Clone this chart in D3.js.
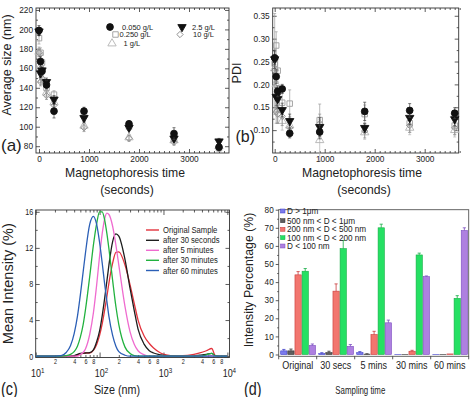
<!DOCTYPE html>
<html>
<head>
<meta charset="utf-8">
<script src="https://cdn.jsdelivr.net/npm/d3@7"></script>
<style>
  body { margin: 0; background: #fff; }
  svg { display: block; font-family: "Liberation Sans", Arial, sans-serif; }
</style>
</head>
<body>
<svg id="fig" width="474" height="397"></svg>
<script>
// ---------------------------------------------
// DATA
// ---------------------------------------------
const times = [0, 30, 60, 150, 300, 900, 1800, 2700, 3600];
const concLabels = ["0.050 g/L", "0.250 g/L", "1 g/L", "2.5 g/L", "10 g/L"];

// (a) average size (nm)
const sizeC005 = [199, 167, 157, 143, 116, 116, 103, 93, 79];
const sizeC025 = [191, 176, 166, 140, 133, 112, 100, 88, 78];
const sizeC1   = [177, 162, 148, 135, 125, 101, 89, 86, 80];
const sizeC25  = [198, 155, 158, 146, 128, 109, 99, 88, 85];
const sizeC10  = [176, 146, 150, 132, 122, 99, 88, 84, 78];
const sizeErr005 = [5, 5, 4, 4, 7, 4, 3, 6, 3];
const sizeErr025 = [6, 5, 4, 5, 4, 5, 3, 4, 3];
const sizeErr1   = [5, 5, 4, 4, 4, 4, 3, 4, 3];
const sizeErr25  = [4, 4, 3, 4, 4, 4, 3, 3, 3];
const sizeErr10  = [4, 4, 4, 4, 4, 4, 3, 3, 3];

// (b) PDI
const pdiC005 = [0.258, 0.217, 0.185, 0.190, 0.093, 0.096, 0.141, 0.143, 0.137];
const pdiC025 = [0.245, 0.285, 0.230, 0.160, 0.158, 0.122, 0.135, 0.115, 0.110];
const pdiC1   = [0.235, 0.200, 0.145, 0.120, 0.110, 0.078, 0.095, 0.105, 0.100];
const pdiC25  = [0.255, 0.173, 0.168, 0.144, 0.120, 0.107, 0.105, 0.127, 0.124];
const pdiC10  = [0.230, 0.140, 0.135, 0.130, 0.105, 0.115, 0.098, 0.110, 0.105];
const pdiErr005 = [0.015, 0.015, 0.012, 0.010, 0.010, 0.015, 0.020, 0.015, 0.012];
const pdiErr025 = [0.110, 0.030, 0.025, 0.030, 0.030, 0.035, 0.020, 0.020, 0.020];
const pdiErr1   = [0.030, 0.030, 0.030, 0.020, 0.020, 0.045, 0.015, 0.015, 0.015];
const pdiErr25  = [0.020, 0.020, 0.020, 0.015, 0.015, 0.020, 0.010, 0.015, 0.015];
const pdiErr10  = [0.025, 0.025, 0.020, 0.020, 0.020, 0.020, 0.015, 0.015, 0.015];

// (c) intensity distributions
const distSizes = [10, 20, 25, 30, 35, 40, 45, 50, 55, 60, 70, 80, 90, 100, 110, 120, 130, 140, 160, 180,
                   200, 250, 300, 350, 400, 500, 600, 700, 900, 1100, 1500, 2000, 3000, 3700, 4700, 5700, 6400, 7000, 10000];
const distOriginal = [0, 0, 0, 0, 0, 0, 0.1, 0.25, 0.3, 0.35, 0.35, 0.64, 1.3, 2.3, 3.6, 5.1, 6.6, 8.1, 10.3, 11.5,
                      11.55, 10.1, 7.9, 5.8, 4.0, 2.2, 1.4, 0.9, 0.35, 0.15, 0.05, 0.05, 0.2, 0.35, 0.6, 0.85, 0.1, 0, 0];
const dist30s = [0, 0, 0, 0, 0, 0.05, 0.2, 0.3, 0.33, 0.35, 0.4, 0.7, 1.6, 2.8, 4.5, 6.4, 8.3, 10.1, 12.7, 13.55,
                 13.3, 10.7, 7.5, 5.0, 3.0, 1.3, 0.6, 0.35, 0.15, 0.05, 0.02, 0, 0.02, 0.1, 0.2, 0.3, 0.05, 0, 0];
const dist5m = [0, 0, 0, 0, 0, 0, 0, 0.18, 0.4, 0.8, 2.4, 4.8, 7.9, 11.1, 13.6, 15.2, 15.85, 15.7, 14.4, 12.3,
                10.1, 5.5, 2.7, 1.3, 0.6, 0.15, 0, 0, 0, 0, 0, 0, 0, 0, 0, 0.05, 0, 0, 0];
const dist30m = [0, 0, 0, 0.05, 0.2, 0.5, 1.1, 2.1, 3.4, 5.1, 8.8, 12.3, 14.7, 16.0, 16.0, 15.1, 13.6, 11.9, 8.4, 5.5,
                 3.5, 1.0, 0.3, 0.05, 0, 0, 0, 0, 0, 0, 0, 0, 0, 0, 0.15, 0.3, 0.05, 0, 0];
const dist60m = [0, 0, 0.05, 0.4, 1.15, 2.5, 4.4, 6.8, 9.2, 11.4, 14.6, 15.5, 14.6, 12.6, 10.3, 8.0, 6.1, 4.4, 2.3, 1.1,
                 0.5, 0.1, 0, 0, 0, 0, 0, 0, 0, 0, 0, 0, 0, 0, 0, 0, 0, 0, 0];
const distLabels = ["Original Sample", "after 30 seconds", "after 5 minutes", "after 30 minutes", "after 60 minutes"];

// (d) intensity percentage by size class
const sampCats = ["Original", "30 secs", "5 mins", "30 mins", "60 mins"];
const classLabels = ["D > 1\u03bcm", "500 nm < D < 1\u03bcm", "200 nm < D < 500 nm", "100 nm < D < 200 nm", "D < 100 nm"];
const pctOver1um   = [2, 0.5, 1, 0.05, 0.05];
const pct500to1000 = [2, 1, 0.2, 0.05, 0.05];
const pct200to500  = [44, 35, 11, 1.8, 0.3];
const pct100to200  = [46, 58.5, 70, 55, 31];
const pctUnder100  = [5, 4.5, 17.5, 43, 68.5];
const errOver1um   = [0.8, 0.5, 0.6, 0, 0];
const err500to1000 = [1, 0.8, 0.2, 0, 0];
const err200to500  = [1.8, 4, 1.8, 0.5, 0];
const err100to200  = [1.5, 4.5, 2, 1, 1.5];
const errUnder100  = [0.8, 1, 1.5, 0.4, 1.5];

// ---------------------------------------------
// HELPERS
// ---------------------------------------------
const svg = d3.select("#fig");
const INK = "#222";

function tickAxis(g, gen, tx, ty) {
  const a = g.append("g").attr("transform", `translate(${tx},${ty})`).call(gen);
  a.attr("font-family", null).attr("font-size", null);
  a.select(".domain").remove();
  a.selectAll("line").attr("stroke", "#333").attr("stroke-width", 0.8);
  a.selectAll("text").attr("fill", INK);
  return a;
}

function frame(g, x, y, color) {
  const [l, r] = x.range(), [b, t] = y.range();
  g.append("rect")
    .attr("x", l).attr("y", t).attr("width", r - l).attr("height", b - t)
    .attr("fill", "none").attr("stroke", color || "#333").attr("stroke-width", 0.9);
}

function label(g, txt, x, y, size, opts = {}) {
  const k = opts.k || 1;
  const rot = opts.rotate ? " rotate(-90)" : "";
  return g.append("text")
    .attr("transform", `translate(${x},${y})${rot} scale(${k},1)`)
    .attr("text-anchor", opts.anchor || "middle")
    .attr("font-size", size + "px")
    .attr("fill", INK)
    .text(txt);
}

// box axes with inward ticks on four sides (a, b)
function scatterAxes(g, x, y, yMajor, yMinor, yFmt) {
  const [l, r] = x.range(), [b, t] = y.range();
  const xMajor = [0, 1000, 2000, 3000];
  const xMinor = d3.range(0, 3800, 100).filter(v => v % 1000);
  frame(g, x, y);
  tickAxis(g, d3.axisBottom(x).tickValues(xMajor).tickSize(-4).tickPadding(3).tickFormat(d3.format("d")), 0, b)
    .selectAll("text").attr("font-size", "8.3px");
  tickAxis(g, d3.axisBottom(x).tickValues(xMinor).tickSize(-2).tickFormat(""), 0, b);
  tickAxis(g, d3.axisTop(x).tickValues(xMajor).tickSize(-4).tickFormat(""), 0, t);
  tickAxis(g, d3.axisTop(x).tickValues(xMinor).tickSize(-2).tickFormat(""), 0, t);
  tickAxis(g, d3.axisLeft(y).tickValues(yMajor).tickSize(-4).tickPadding(3).tickFormat(yFmt), l, 0)
    .selectAll("text").attr("font-size", "8.3px");
  tickAxis(g, d3.axisLeft(y).tickValues(yMinor).tickSize(-2).tickFormat(""), l, 0);
  tickAxis(g, d3.axisRight(y).tickValues(yMajor).tickSize(-4).tickFormat(""), r, 0);
  tickAxis(g, d3.axisRight(y).tickValues(yMinor).tickSize(-2).tickFormat(""), r, 0);
}

const symCircle = d3.symbol().type(d3.symbolCircle).size(36)();
const symSquare = d3.symbol().type(d3.symbolSquare).size(30)();
const symTri    = d3.symbol().type(d3.symbolTriangle).size(30)();
const symDiam   = d3.symbol().type(d3.symbolSquare).size(20)();

function seriesStyles(v005, v025, v1, v25, v10, e005, e025, e1, e25, e10) {
  // drawing order: open markers first, filled on top
  return [
    { name: concLabels[2], vals: v1,   err: e1,   path: symTri,    rot: 0,   fill: "none", stroke: "#b3b3b3" },
    { name: concLabels[4], vals: v10,  err: e10,  path: symDiam,   rot: 45,  fill: "none", stroke: "#8c8c8c" },
    { name: concLabels[1], vals: v025, err: e025, path: symSquare, rot: 0,   fill: "none", stroke: "#9c9c9c" },
    { name: concLabels[3], vals: v25,  err: e25,  path: symTri,    rot: 180, fill: "#111", stroke: "#111" },
    { name: concLabels[0], vals: v005, err: e005, path: symCircle, rot: 0,   fill: "#111", stroke: "#111" }
  ];
}

function drawScatter(g, x, y, series) {
  series.forEach(s => {
    const pts = times.map((t, i) => ({ t, v: s.vals[i], e: s.err[i] }));
    const sg = g.append("g");
    const eb = sg.selectAll(".eb").data(pts).enter().append("g")
      .attr("stroke", s.stroke === "#111" ? "#444" : s.stroke).attr("stroke-width", 0.7);
    eb.append("line")
      .attr("x1", d => x(d.t)).attr("x2", d => x(d.t))
      .attr("y1", d => y(d.v - d.e)).attr("y2", d => y(d.v + d.e));
    eb.append("line")
      .attr("x1", d => x(d.t) - 1.5).attr("x2", d => x(d.t) + 1.5)
      .attr("y1", d => y(d.v + d.e)).attr("y2", d => y(d.v + d.e));
    eb.append("line")
      .attr("x1", d => x(d.t) - 1.5).attr("x2", d => x(d.t) + 1.5)
      .attr("y1", d => y(d.v - d.e)).attr("y2", d => y(d.v - d.e));
    sg.selectAll(".pt").data(pts).enter().append("path")
      .attr("d", s.path)
      .attr("transform", d => `translate(${x(d.t)},${y(d.v)}) rotate(${s.rot})`)
      .attr("fill", s.fill).attr("stroke", s.stroke).attr("stroke-width", 0.9);
  });
}

// ---------------------------------------------
// PANEL (a)
// ---------------------------------------------
const gA = svg.append("g");
const xA = d3.scaleLinear().domain([-60, 3800]).range([36, 229]);
const yA = d3.scaleLinear().domain([73, 222]).range([153, 8]);
scatterAxes(gA, xA, yA, d3.range(80, 221, 20), d3.range(90, 221, 20), d3.format("d"));
drawScatter(gA, xA, yA, seriesStyles(sizeC005, sizeC025, sizeC1, sizeC25, sizeC10,
  sizeErr005, sizeErr025, sizeErr1, sizeErr25, sizeErr10));

// legend (a)
const legA = [
  { i: 0, sx: 110, tx: 122, y: 27, path: symCircle, rot: 0, fill: "#111", stroke: "#111" },
  { i: 1, sx: 115.5, tx: 119.5, y: 34.5, path: symSquare, rot: 0, fill: "none", stroke: "#9c9c9c" },
  { i: 2, sx: 112, tx: 123.5, y: 43.5, path: symTri, rot: 0, fill: "none", stroke: "#b3b3b3" },
  { i: 3, sx: 182, tx: 192, y: 27, path: symTri, rot: 180, fill: "#111", stroke: "#111" },
  { i: 4, sx: 180, tx: 193, y: 34.5, path: symDiam, rot: 45, fill: "none", stroke: "#8c8c8c" }
];
legA.forEach(d => {
  gA.append("path").attr("d", d.path)
    .attr("transform", `translate(${d.sx},${d.y}) rotate(${d.rot})`)
    .attr("fill", d.fill).attr("stroke", d.stroke).attr("stroke-width", 0.9);
  label(gA, concLabels[d.i], d.tx, d.y + 2.6, 7.5, { anchor: "start" });
});

label(gA, "Average size (nm)", 11, 65, 12.5, { rotate: true });
label(gA, "Magnetophoresis time", 125, 177, 12.2);
label(gA, "(seconds)", 127, 194, 12.2);
label(gA, "(a)", 1, 151, 17, { anchor: "start" });

// ---------------------------------------------
// PANEL (b)
// ---------------------------------------------
const gB = svg.append("g");
const xB = d3.scaleLinear().domain([-40, 3680]).range([272.7, 458.7]);
const yB = d3.scaleLinear().domain([0.05, 0.367]).range([153, 8]);
scatterAxes(gB, xB, yB, d3.range(0.10, 0.36, 0.05), d3.range(0.075, 0.36, 0.05), d3.format(".2f"));
drawScatter(gB, xB, yB, seriesStyles(pdiC005, pdiC025, pdiC1, pdiC25, pdiC10,
  pdiErr005, pdiErr025, pdiErr1, pdiErr25, pdiErr10));

label(gB, "PDI", 241, 73, 12.5, { rotate: true });
label(gB, "Magnetophoresis time", 362, 177, 12.2);
label(gB, "(seconds)", 364, 194, 12.2);
label(gB, "(b)", 235.5, 142, 16, { anchor: "start" });

// ---------------------------------------------
// PANEL (c)
// ---------------------------------------------
const gC = svg.append("g");
const xC = d3.scaleLog().domain([10, 10800]).range([35.7, 229.5]);
const yC = d3.scaleLinear().domain([-0.15, 16.2]).range([357.5, 210]);
const cMajor = [10, 100, 1000, 10000];
const cMinor = [10, 100, 1000].flatMap(p => d3.range(2, 10).map(m => m * p));
const cK = 0.78;

frame(gC, xC, yC);
const minorAx = tickAxis(gC, d3.axisBottom(xC).tickValues(cMinor).tickSize(-2.5).tickPadding(1.5)
  .tickFormat(d => {
    const m = Math.round(d / Math.pow(10, Math.floor(Math.log10(d) + 1e-9)));
    return [2, 4, 6, 8].includes(m) ? m : "";
  }), 0, 357.5);
minorAx.selectAll("text").attr("font-size", "7px").attr("transform", `scale(${cK},1)`);
const majorAx = tickAxis(gC, d3.axisBottom(xC).tickValues(cMajor).tickSize(-5).tickPadding(11).tickFormat(""), 0, 357.5);
majorAx.selectAll(".tick text")
  .attr("font-size", "11.5px").attr("transform", `translate(1.5,0) scale(${cK},1)`)
  .each(function (d) {
    const t = d3.select(this);
    t.append("tspan").text("10");
    t.append("tspan").attr("dy", "-0.45em").attr("font-size", "8px").text(Math.round(Math.log10(d)));
  });
tickAxis(gC, d3.axisTop(xC).tickValues(cMinor).tickSize(-2.5).tickFormat(""), 0, 210);
tickAxis(gC, d3.axisTop(xC).tickValues(cMajor).tickSize(-5).tickFormat(""), 0, 210);
tickAxis(gC, d3.axisLeft(yC).tickValues([0, 4, 8, 12, 16]).tickSize(-4).tickPadding(3).tickFormat(d3.format("d")), 35.7, 0)
  .selectAll("text").attr("font-size", "9px").attr("transform", "scale(0.8,1)");
tickAxis(gC, d3.axisLeft(yC).tickValues([2, 6, 10, 14]).tickSize(-2).tickFormat(""), 35.7, 0);
tickAxis(gC, d3.axisRight(yC).tickValues([0, 4, 8, 12, 16]).tickSize(-4).tickFormat(""), 229.5, 0);
tickAxis(gC, d3.axisRight(yC).tickValues([2, 6, 10, 14]).tickSize(-2).tickFormat(""), 229.5, 0);

const distSeries = [
  { vals: distOriginal, color: "#e3333d" },
  { vals: dist30s, color: "#1e1e1e" },
  { vals: dist5m, color: "#ef6bcf" },
  { vals: dist30m, color: "#22b23f" },
  { vals: dist60m, color: "#2b5fb6" }
];
const lineC = d3.line()
  .x(d => xC(d.s)).y(d => yC(d.v))
  .curve(d3.curveMonotoneX);
gC.append("defs").append("clipPath").attr("id", "clipC")
  .append("rect").attr("x", 35.7).attr("y", 210).attr("width", 229.5 - 35.7).attr("height", 147.5);
const curves = gC.append("g").attr("clip-path", "url(#clipC)");
distSeries.forEach(s => {
  curves.append("path")
    .datum(distSizes.map((sz, i) => ({ s: sz, v: s.vals[i] })))
    .attr("d", lineC)
    .attr("fill", "none").attr("stroke", s.color).attr("stroke-width", 1.3);
});

// legend (c)
const legCY = [230, 240.3, 250.3, 260.3, 270.5];
distSeries.forEach((s, i) => {
  gC.append("line").attr("x1", 146).attr("x2", 159).attr("y1", legCY[i]).attr("y2", legCY[i])
    .attr("stroke", s.color).attr("stroke-width", 1.4);
  label(gC, distLabels[i], 163, legCY[i] + 3, 9, { anchor: "start", k: 0.85 });
});

label(gC, "Mean Intensity (%)", 12.5, 283.7, 14.5, { rotate: true });
label(gC, "Size (nm)", 117, 393.6, 12, { k: 0.9 });
label(gC, "(c)", 1, 394.5, 18, { anchor: "start", k: 0.8 });

// ---------------------------------------------
// PANEL (d)
// ---------------------------------------------
const gD = svg.append("g");
const xD = d3.scaleBand().domain(sampCats).range([278.7, 468.7]).padding(0);
const xDin = d3.scaleBand().domain(classLabels).range([2, xD.bandwidth() - 1.2]).paddingInner(0.12);
const yD = d3.scaleLinear().domain([-1, 80]).range([356.3, 209.7]);
const classSeries = [
  { vals: pctOver1um,   err: errOver1um,   fill: "#7b7bec", stroke: "#3f3fc8" },
  { vals: pct500to1000, err: err500to1000, fill: "#5e5e5e", stroke: "#303030" },
  { vals: pct200to500,  err: err200to500,  fill: "#f2766f", stroke: "#c93a3a" },
  { vals: pct100to200,  err: err100to200,  fill: "#25e063", stroke: "#16ad45" },
  { vals: pctUnder100,  err: errUnder100,  fill: "#ae80e0", stroke: "#7b4cc0" }
];

classSeries.forEach((s, ci) => {
  const data = sampCats.map((c, i) => ({ c, v: s.vals[i], e: s.err[i] }));
  const bx = d => xD(d.c) + xDin(classLabels[ci]);
  const sg = gD.append("g");
  sg.selectAll("rect").data(data).enter().append("rect")
    .attr("x", bx).attr("width", xDin.bandwidth())
    .attr("y", d => yD(d.v)).attr("height", d => yD(0) - yD(d.v))
    .attr("fill", s.fill).attr("stroke", s.stroke).attr("stroke-width", 0.6);
  const eb = sg.selectAll(".eb").data(data.filter(d => d.e > 0)).enter().append("g")
    .attr("stroke", s.stroke).attr("stroke-width", 0.8);
  const cx = d => bx(d) + xDin.bandwidth() / 2;
  eb.append("line").attr("x1", cx).attr("x2", cx)
    .attr("y1", d => yD(d.v)).attr("y2", d => yD(d.v + d.e));
  eb.append("line").attr("x1", d => cx(d) - 1.6).attr("x2", d => cx(d) + 1.6)
    .attr("y1", d => yD(d.v + d.e)).attr("y2", d => yD(d.v + d.e));
});

frame(gD, xD, yD, "#555");
tickAxis(gD, d3.axisLeft(yD).tickValues(d3.range(0, 81, 10)).tickSize(3).tickPadding(2), 278.7, 0)
  .selectAll("text").attr("font-size", "8.2px");
tickAxis(gD, d3.axisLeft(yD).tickValues(d3.range(5, 80, 10)).tickSize(1.5).tickFormat(""), 278.7, 0);
tickAxis(gD, d3.axisBottom(xD).tickSize(0).tickPadding(5), 0, 356.3)
  .selectAll("text").attr("font-size", "10.5px").attr("transform", "scale(0.86,1)");
const bounds = sampCats.map(c => xD(c)).concat([xD.range()[1]]);
gD.selectAll(".sep").data(bounds).enter().append("line")
  .attr("x1", d => d).attr("x2", d => d).attr("y1", 356.3).attr("y2", 359.3)
  .attr("stroke", "#333").attr("stroke-width", 0.8);

// legend (d)
const legDY = [211, 220.7, 229.3, 237.7, 246];
classSeries.forEach((s, i) => {
  gD.append("rect").attr("x", 280.5).attr("y", legDY[i] - 2).attr("width", 4.5).attr("height", 4)
    .attr("fill", s.fill).attr("stroke", s.stroke).attr("stroke-width", 0.5);
  label(gD, classLabels[i], 287, legDY[i] + 2.8, 8.2, { anchor: "start" });
});

label(gD, "Intensity Percentage (%)", 253, 280, 12.3, { rotate: true });
label(gD, "Sampling time", 360.3, 393.6, 11.6, { k: 0.68 });
label(gD, "(d)", 244, 394.5, 18, { anchor: "start", k: 0.8 });
</script>
</body>
</html>
